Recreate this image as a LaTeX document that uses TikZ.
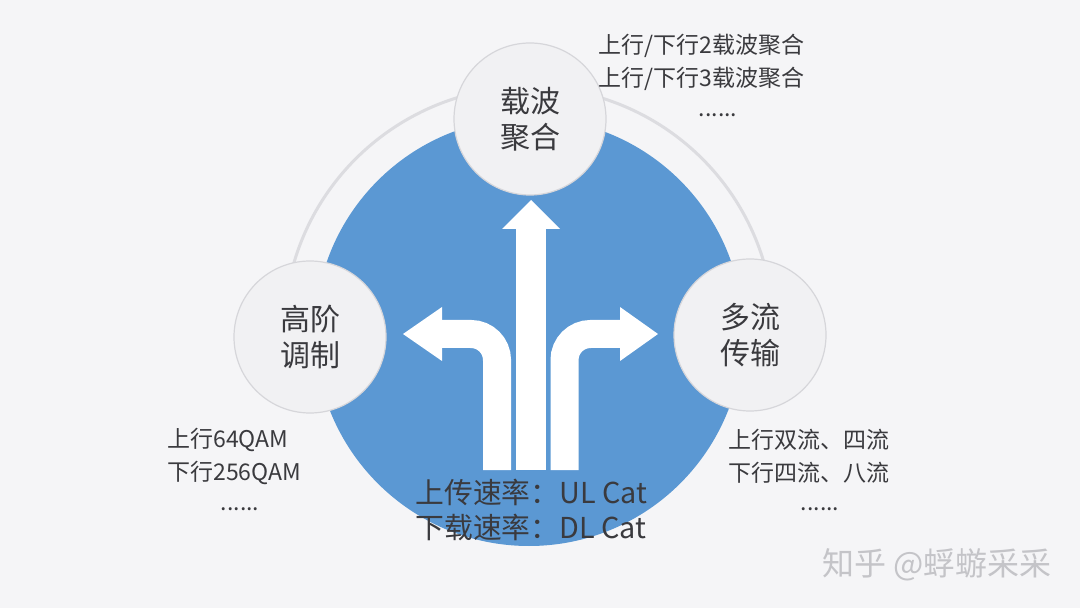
\documentclass[tikz,border=0pt]{standalone}
\usepackage{fontspec}
\setmainfont{Noto Sans CJK SC}
\usetikzlibrary{calc}

\definecolor{bgcol}{RGB}{245,245,247}
\definecolor{discblue}{RGB}{91,152,211}
\definecolor{ringgray}{RGB}{220,220,224}
\definecolor{bubblefill}{RGB}{241,241,243}
\definecolor{bubbleline}{RGB}{214,214,218}
\definecolor{txtgray}{RGB}{58,58,62}
\definecolor{markgray}{RGB}{196,196,200}

\tikzset{
  bubble/.style={circle, fill=bubblefill, draw=bubbleline, line width=0.6pt,
    minimum size=76pt, inner sep=0pt, align=center, text=txtgray,
    font=\fontsize{15}{18}\selectfont},
  note/.style={text=txtgray, align=left, inner sep=0pt,
    font=\fontsize{11.5}{16.5}\selectfont},
  lane/.style={white, line width=14pt},
}

\begin{document}
\begin{tikzpicture}[x=0.5pt, y=-0.5pt]
%background
\fill[bgcol] (0,0) rectangle (1080,608);
%ring and disc
\draw[ringgray, line width=1.5pt] (529,332) ++(188:245) arc[start angle=188, end angle=352, radius=245];
\fill[discblue] (529,332) circle[radius=214];
%arrows
\draw[lane, line width=15pt] (531,470) -- (531,226);
\fill[white] (502,229) -- (531,200) -- (560,229) -- cycle;
\draw[lane, rounded corners=13pt] (497,470) -- (497,334) -- (440,334);
\fill[white] (442,307) -- (403,334) -- (442,361) -- cycle;
\draw[lane, rounded corners=13pt] (564.5,470) -- (564.5,334) -- (622,334);
\fill[white] (620,307) -- (658,334) -- (620,361) -- cycle;
%bubbles
\path (530,119) node[bubble] (ca) {载波\\聚合};
\path (310,337) node[bubble] (hom) {高阶\\调制};
\path (750,335) node[bubble] (mimo) {多流\\传输};
%notes
\path (598,62) node[note, anchor=west] (ca-note) {上行/下行2载波聚合\\上行/下行3载波聚合};
\path (718,115) node[note] (ca-dots) {......};
\path (167,456) node[note, anchor=west] (hom-note) {上行64QAM\\下行256QAM};
\path (240,509) node[note] (hom-dots) {......};
\path (728,456) node[note, anchor=west] (mimo-note) {上行双流、四流\\下行四流、八流};
\path (820,509) node[note] (mimo-dots) {......};
\path (415,510) node[note, anchor=west, font=\fontsize{14.4}{17.5}\selectfont] (rate) {上传速率：UL Cat\\下载速率：DL Cat};
%watermark
\path (937,565) node[text=markgray, font=\fontsize{16}{16}\selectfont] (mark) {知乎 @蜉蝣采采};
\end{tikzpicture}
\end{document}
